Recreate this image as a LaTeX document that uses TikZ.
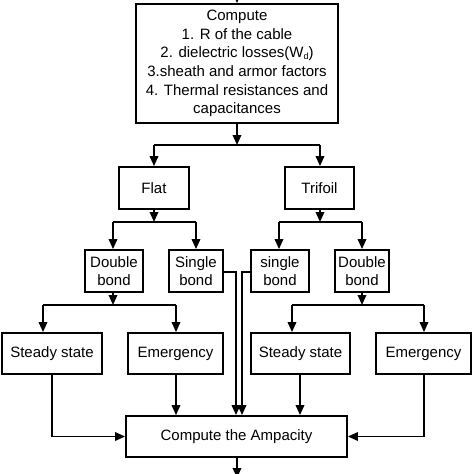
\documentclass[tikz,border=0pt]{standalone}
\usepackage{fontspec}
\setmainfont{Liberation Sans}
\usetikzlibrary{arrows.meta}
\begin{document}
\begin{tikzpicture}[x=1pt,y=-1pt,
  box/.style={draw,line width=1.8pt,rectangle,inner sep=0pt,align=center,font=\fontsize{15}{18.6}\selectfont},
  conn/.style={line width=1.8pt},
  arr/.style={line width=1.8pt,-{Triangle[length=10pt,width=8.5pt]}}]
\useasboundingbox (0,0) rectangle (474,474);
\node[box,minimum width=202pt,minimum height=119pt] (top) at (237,63.5)
  {\raisebox{0pt}[\height][0pt]{}Compute\\1. R of the cable\\2. dielectric losses(W\raisebox{-0.25ex}{\fontsize{9}{9}\selectfont d})\\3.sheath and armor factors\\4. Thermal resistances and\\capacitances};
\node[box,minimum width=70pt,minimum height=42pt] (flat) at (154,188) {Flat};
\node[box,minimum width=69pt,minimum height=42pt] (tri) at (319.5,188) {Trifoil};
\node[box,minimum width=58pt,minimum height=42pt] (dbl1) at (114,271) {Double\\bond};
\node[box,minimum width=54pt,minimum height=42pt] (sgl1) at (196,271) {Single\\bond};
\node[box,minimum width=58pt,minimum height=42pt] (sgl2) at (280,271) {single\\bond};
\node[box,minimum width=54pt,minimum height=42pt] (dbl2) at (362,271) {Double\\bond};
\node[box,minimum width=100pt,minimum height=41pt] (ss1) at (52,353.5) {Steady state};
\node[box,minimum width=95pt,minimum height=41pt] (em1) at (175.5,353.5) {Emergency};
\node[box,minimum width=99pt,minimum height=41pt] (ss2) at (300.5,353.5) {Steady state};
\node[box,minimum width=95pt,minimum height=41pt] (em2) at (423.5,353.5) {Emergency};
\node[box,minimum width=221pt,minimum height=41pt] (comp) at (236.5,436.5) {Compute the Ampacity};
% junction coordinates
\coordinate (in) at (237,-6);
\coordinate (j0) at (237,145);
\coordinate (j0l) at (154,145);
\coordinate (j0r) at (320,145);
\coordinate (j1) at (154,222);
\coordinate (j1l) at (113,222);
\coordinate (j1r) at (196,222);
\coordinate (j2) at (320,222);
\coordinate (j2l) at (279,222);
\coordinate (j2r) at (362,222);
\coordinate (j3) at (113,305);
\coordinate (j3l) at (43,305);
\coordinate (j3r) at (176,305);
\coordinate (j4) at (362,305);
\coordinate (j4l) at (292,305);
\coordinate (j4r) at (424,305);
\coordinate (out) at (237,478);
% connectors
\draw[arr] (in) -- (top.north);
\draw[arr] (top.south) -- (j0);
\draw[conn] (j0l) -- (j0r);
\draw[arr] (j0l) -- (flat.north);
\draw[arr] (j0r) -- (tri.north -| j0r);
\draw[arr] (flat.south) -- (j1);
\draw[conn] (j1l) -- (j1r);
\draw[arr] (j1l) -- (dbl1.north -| j1l);
\draw[arr] (j1r) -- (sgl1.north);
\draw[arr] (tri.south -| j2) -- (j2);
\draw[conn] (j2l) -- (j2r);
\draw[arr] (j2l) -- (sgl2.north -| j2l);
\draw[arr] (j2r) -- (dbl2.north);
\draw[arr] (dbl1.south -| j3) -- (j3);
\draw[conn] (j3l) -- (j3r);
\draw[arr] (j3l) -- (ss1.north -| j3l);
\draw[arr] (j3r) -- (em1.north -| j3r);
\draw[arr] (dbl2.south) -- (j4);
\draw[conn] (j4l) -- (j4r);
\draw[arr] (j4l) -- (ss2.north -| j4l);
\draw[arr] (j4r) -- (em2.north -| j4r);
\draw[arr] (sgl1.east |- 0,272) -- (236,272) -- (comp.north -| 236,0);
\draw[arr] (sgl2.west |- 0,272) -- (242,272) -- (comp.north -| 242,0);
\draw[arr] (ss1.south) -- (ss1.south |- comp.west) -- (comp.west);
\draw[arr] (em1.south -| 176,0) -- (comp.north -| 176,0);
\draw[arr] (ss2.south -| 300,0) -- (comp.north -| 300,0);
\draw[arr] (em2.south -| 424,0) -- (424,436.5) -- (comp.east);
\draw[arr] (comp.south -| out) -- (out);
\end{tikzpicture}
\end{document}
